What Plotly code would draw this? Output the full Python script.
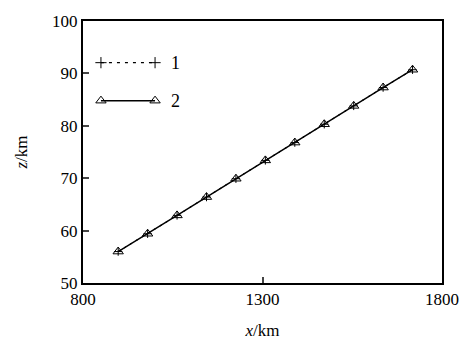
import plotly.graph_objects as go

# Data
x_km = [898, 980, 1062, 1144, 1226, 1308, 1390, 1472, 1554, 1636, 1718]
z1_km = [56.0, 59.4, 62.9, 66.4, 69.9, 73.4, 76.8, 80.3, 83.8, 87.3, 90.7]
z2_km = [56.0, 59.4, 62.9, 66.4, 69.9, 73.4, 76.8, 80.3, 83.8, 87.3, 90.7]
series_names = ["1", "2"]
x_ticks = [800, 1300, 1800]
y_ticks = [50, 60, 70, 80, 90, 100]

FONT = "Liberation Serif"
fig = go.Figure()

fig.add_trace(go.Scatter(
    x=x_km, y=z2_km, mode="lines+markers", name=series_names[1],
    line=dict(color="black", width=1.5),
    marker=dict(symbol="triangle-up-open", size=9, color="black", line=dict(width=1)),
    showlegend=False))
fig.add_trace(go.Scatter(
    x=x_km, y=z1_km, mode="lines+markers", name=series_names[0],
    line=dict(color="black", width=1.2, dash="2px,5px"),
    marker=dict(symbol="cross-thin-open", size=6, color="black", line=dict(width=1, color="black")),
    showlegend=False))

# Manual legend (legend sample glyphs, drawn on a hidden overlay axis in fraction units)
fig.add_trace(go.Scatter(
    x=[0.05, 0.2007], y=[0.841, 0.841], xaxis="x2", yaxis="y2", mode="lines+markers",
    line=dict(color="black", width=1.2, dash="3px,5px"),
    marker=dict(symbol="cross-thin-open", size=8, color="black", line=dict(width=1, color="black")),
    showlegend=False, hoverinfo="skip"))
fig.add_trace(go.Scatter(
    x=[0.05, 0.2007], y=[0.696, 0.696], xaxis="x2", yaxis="y2", mode="lines+markers",
    line=dict(color="black", width=1.5),
    marker=dict(symbol="triangle-up-open", size=9, color="black", line=dict(width=1)),
    showlegend=False, hoverinfo="skip"))
for name, yy in zip(series_names, [0.841, 0.696]):
    fig.add_annotation(x=0.24, y=yy, xref="x2", yref="y2", text=name, showarrow=False,
                       xanchor="left", yanchor="middle", font=dict(family=FONT, size=18, color="black"))

fig.update_layout(
    width=474, height=353,
    margin=dict(l=83, r=32, t=13, b=70),
    paper_bgcolor="white", plot_bgcolor="white",
    font=dict(family=FONT, size=17, color="black"),
    xaxis=dict(range=[800, 1800], tickvals=x_ticks, ticks="inside", ticklen=6, tickwidth=1.5,
               showline=True, linewidth=2, linecolor="black", mirror=True, showgrid=False,
               zeroline=False, title=dict(text="<i>x</i>/km", standoff=16, font=dict(size=17))),
    yaxis=dict(range=[50, 100], tickvals=y_ticks, ticks="inside", ticklen=6, tickwidth=1.5,
               showline=True, linewidth=2, linecolor="black", mirror=True, showgrid=False,
               zeroline=False, title=dict(text="<i>z</i>/km", standoff=20, font=dict(size=17))),
    xaxis2=dict(overlaying="x", range=[0, 1], visible=False),
    yaxis2=dict(overlaying="y", range=[0, 1], visible=False),
)

fig.write_html("out.html")
